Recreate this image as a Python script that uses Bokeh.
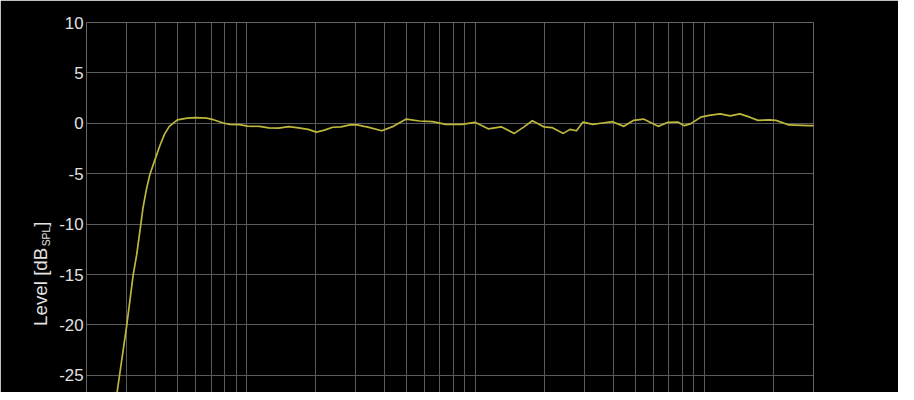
from bokeh.plotting import figure
from bokeh.models import Range1d, FixedTicker, Span, Label
from bokeh.embed import file_html
from bokeh.resources import INLINE

# ---- data ----
freq_hz = [24.5, 27.2, 30.0, 32.0, 33.1, 34.6, 35.3, 36.5, 37.8, 39.7, 41.7, 43.8,
           46.0, 49.9, 55.1, 59.8, 67.1, 71.7, 79.2, 84.5, 93.3, 101, 114, 125,
           138, 153, 169, 186, 202, 219, 238, 259, 286, 305, 326, 336, 390, 438,
           499, 570, 650, 741, 874, 996, 1137, 1297, 1479, 1632, 1773, 1988, 2160,
           2422, 2588, 2764, 2951, 3258, 3596, 3969, 4454, 4916, 5426, 5798, 6290,
           6942, 7662, 8186, 8738, 9646, 10645, 11750, 12968, 14312, 15797, 17170,
           19246, 20560, 23440, 28560, 30000]
level_db = [-34.0, -26.7, -20.0, -15.0, -13.1, -9.9, -8.4, -6.6, -5.1, -3.7, -2.3, -1.1,
            -0.3, 0.35, 0.52, 0.57, 0.52, 0.36, 0.03, -0.1, -0.13, -0.28, -0.3, -0.45,
            -0.48, -0.32, -0.45, -0.6, -0.87, -0.68, -0.39, -0.35, -0.13, -0.16, -0.3, -0.35, -0.74, -0.3,
            0.42, 0.23, 0.16, -0.1, -0.1, 0.1, -0.55, -0.35, -1.0, -0.35, 0.26, -0.35, -0.42,
            -1.0, -0.6, -0.74, 0.12, -0.1, 0.03, 0.16, -0.3, 0.3, 0.42, 0.1, -0.3,
            0.1, 0.13, -0.23, -0.03, 0.61, 0.81, 0.94, 0.74, 0.94, 0.61, 0.29,
            0.35, 0.29, -0.16, -0.23, -0.23]

x_grid_hz = [30, 40, 50, 60, 70, 80, 90, 100, 200, 300, 400, 500, 600, 700, 800, 900,
             1000, 2000, 3000, 4000, 5000, 6000, 7000, 8000, 9000, 10000, 20000]
y_ticks_db = [-25, -20, -15, -10, -5, 0, 5, 10]
y_tick_labels = ["-25", "-20", "-15", "-10", "-5", "0", "5", "10"]
x_min_hz, x_max_hz = 20, 30000
y_min_db, y_max_db = -26.7, 10

FG = "#e2e2e2"
GRID = "#5a5a5a"
EDGE = "#8a8a8a"
FONT = "Liberation Sans"

p = figure(width=898, height=392, x_axis_type="log",
           x_range=Range1d(x_min_hz, x_max_hz), y_range=Range1d(y_min_db, y_max_db),
           output_backend="svg", toolbar_location=None)
p.min_border_left = 86
p.min_border_right = 85
p.min_border_top = 22
p.min_border_bottom = 0
p.background_fill_color = "black"
p.border_fill_color = "black"
p.outline_line_color = None

p.xaxis.visible = False
p.xgrid.ticker = FixedTicker(ticks=x_grid_hz)
p.xgrid.grid_line_color = GRID
p.xgrid.grid_line_width = 1

p.yaxis.ticker = FixedTicker(ticks=y_ticks_db)
p.yaxis.major_label_overrides = dict(zip(y_ticks_db, y_tick_labels))
p.ygrid.grid_line_color = GRID
p.yaxis.axis_line_color = None
p.yaxis.major_tick_line_color = None
p.yaxis.minor_tick_line_color = None
p.yaxis.major_tick_in = 0
p.yaxis.major_tick_out = 0
p.yaxis.major_label_standoff = 3
p.yaxis.major_label_text_color = FG
p.yaxis.major_label_text_font = FONT
p.yaxis.major_label_text_font_size = "16.8px"

# frame edges (top, left, right)
for loc in (x_min_hz, x_max_hz):
    p.add_layout(Span(location=loc, dimension="height", line_color=EDGE, line_width=1))
p.add_layout(Span(location=y_max_db, dimension="width", line_color=EDGE, line_width=1))

p.line(freq_hz, level_db, line_color="#bdb83c", line_width=1.7,
       line_join="round", line_cap="round")

# y-axis title with subscript (placed in the left side panel so it is not clipped)
common = dict(angle=1.5708, text_align="left", text_baseline="alphabetic",
              text_color=FG, text_font=FONT)
p.add_layout(Label(x=12.59, y=-20.1, text="Level [dB", text_font_size="18.8px", **common), "left")
p.add_layout(Label(x=13.33, y=-12.2, text="SPL", text_font_size="10.4px", **common), "left")
p.add_layout(Label(x=12.59, y=-10.25, text="]", text_font_size="18.8px", **common), "left")

open("out.html", "w").write(file_html(p, INLINE))
